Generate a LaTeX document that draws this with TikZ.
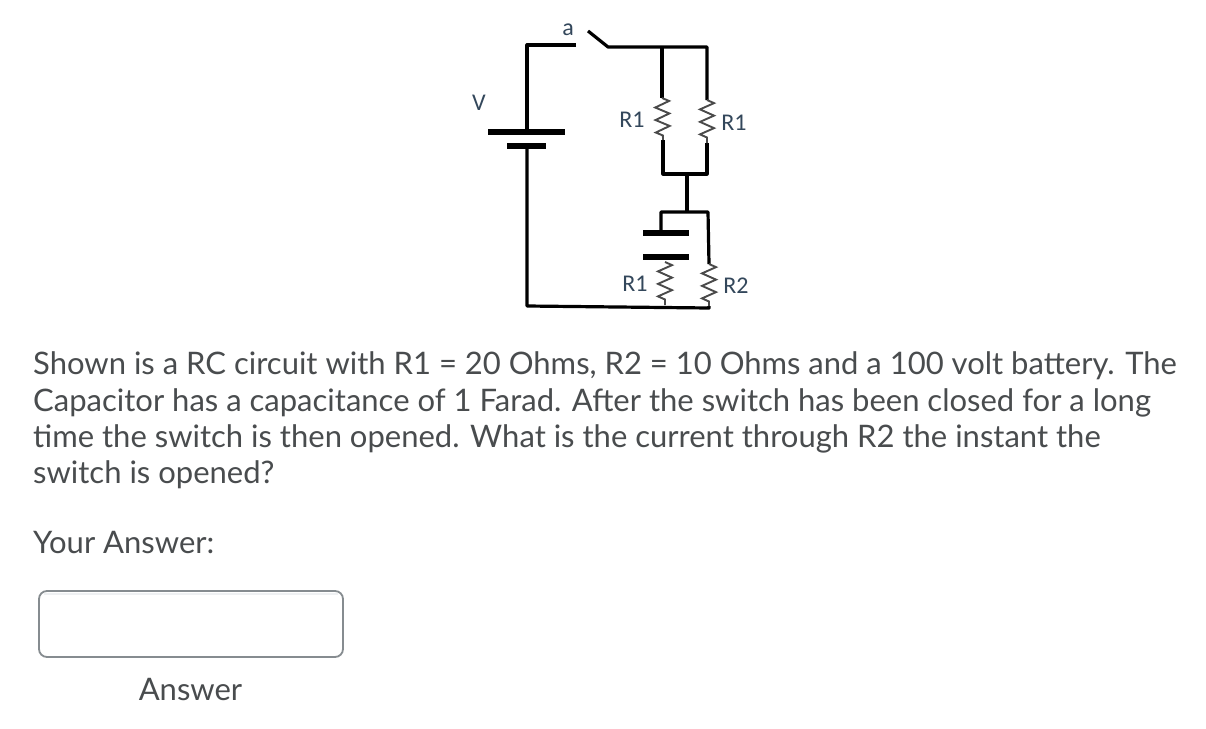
\documentclass[tikz,border=0pt]{standalone}
\usepackage{fontspec}
\setmainfont{Lato}
\newfontfamily\labelfont{Carlito}
\usetikzlibrary{%
  calc,%
  positioning,%
  decorations.pathmorphing%
}
\definecolor{textgray}{HTML}{494C4E}
\definecolor{boxgray}{HTML}{868C90}
\definecolor{boxshade}{HTML}{EFF1F3}
\definecolor{labelblue}{HTML}{33475B}
\definecolor{zigzaggray}{HTML}{4A4A4A}

\begin{document}
\begin{tikzpicture}[x=1pt,y=-1pt]
       \tikzset{wire/.style={draw=black, line width=3.2pt, line join=round}}
       \tikzset{plate/.style={draw=black, line width=6pt}}
       \tikzset{resistor/.style={draw=zigzaggray, line width=1.9pt, decorate,
                decoration={zigzag, segment length=12.5pt, amplitude=7pt}}}
       \tikzset{clabel/.style={text=labelblue, font=\labelfont\fontsize{24}{24}\selectfont, inner sep=0pt}}
       \tikzset{body/.style={text=textgray, anchor=base west, inner sep=0pt,
                font=\fontsize{31}{31}\selectfont}}

       \useasboundingbox (0,0) rectangle (1206,728);
       \fill[white] (0,0) rectangle (1206,728);

       % battery and switch
       \coordinate (wireend) at (576,45);
       \coordinate (topleft) at (527,45);
       \coordinate (batplus) at (527,132);
       \coordinate (batminus) at (527,146);
       \coordinate (botleft) at (527,306);
       \coordinate (swfree) at (588,31);
       \coordinate (swpivot) at (608,47);
       \coordinate (batpl) at (488,132);
       \coordinate (batpr) at (565,132);
       \coordinate (batml) at (507,146);
       \coordinate (batmr) at (546,146);

       % upper pair
       \coordinate (topmid) at (662,47);
       \coordinate (topright) at (707,47);
       \coordinate (ra1) at (662,98);
       \coordinate (ra2) at (663,140);
       \coordinate (rb1) at (707,100);
       \coordinate (rb2) at (707,143);
       \coordinate (lowl) at (663,174);
       \coordinate (lowr) at (707,174);
       \coordinate (lowm) at (687,174);
       \coordinate (crossm) at (687,212);

       % lower pair
       \coordinate (crossl) at (661,212);
       \coordinate (crossr) at (708,212);
       \coordinate (capt) at (661,233);
       \coordinate (captl) at (643,233);
       \coordinate (captr) at (689,233);
       \coordinate (capbl) at (643,257);
       \coordinate (capbr) at (689,257);
       \coordinate (rc1) at (665,262);
       \coordinate (rc2) at (665,305);
       \coordinate (rd1) at (709,264);
       \coordinate (rd2) at (709,306);
       \coordinate (botright) at (709,308);

       \draw[wire] (wireend) -- (topleft) -- (batplus);
       \draw[wire] (batminus) -- (botleft) -- (botright) -- (rd2);
       \draw[wire] (swfree) -- (swpivot) -- (topright) -- (rb1);
       \draw[wire] (topmid) -- (ra1);
       \draw[wire] (ra2) -- (lowl) -- (lowr) -- (rb2);
       \draw[wire] (lowm) -- (crossm);
       \draw[wire] (capt) -- (crossl) -- (crossr) -- (rd1);

       \draw[plate] (batpl) -- (batpr);
       \draw[plate] (batml) -- (batmr);
       \draw[plate] (captl) -- (captr);
       \draw[plate] (capbl) -- (capbr);

       \draw[resistor] (ra1) -- (ra2);
       \draw[resistor] (rb1) -- (rb2);
       \draw[resistor] (rc1) -- (rc2);
       \draw[resistor] (rd1) -- (rd2);

       \node[clabel] (labela) at (568,30) {a};
       \node[clabel] (labelv) at (479,103) {V};
       \node[clabel] (labelra) at (632,120) {R1};
       \node[clabel] (labelrb) at (734,123) {R1};
       \node[clabel] (labelrc) at (635,284) {R1};
       \node[clabel] (labelrd) at (736,286) {R2};

       % question
       \node[body] (line1) at (33,374) {Shown is a RC circuit with R1 = 20 Ohms, R2 = 10 Ohms and a 100 volt battery. The};
       \node[body] (line2) at (33,411) {Capacitor has a capacitance of 1 Farad. After the switch has been closed for a long};
       \node[body] (line3) at (33,447) {time the switch is then opened. What is the current through R2 the instant the};
       \node[body] (line4) at (33,483) {switch is opened?};
       \node[body] (youranswer) at (33,553) {Your Answer:};

       \draw[boxshade, line width=2pt] (44,593.5) -- (338,593.5);
       \draw[draw=boxgray, line width=1.8pt, rounded corners=8pt] (39,591) rectangle (343,657);
       \node[body, anchor=base] (answer) at (190.5,700) {Answer};
\end{tikzpicture}
\end{document}
